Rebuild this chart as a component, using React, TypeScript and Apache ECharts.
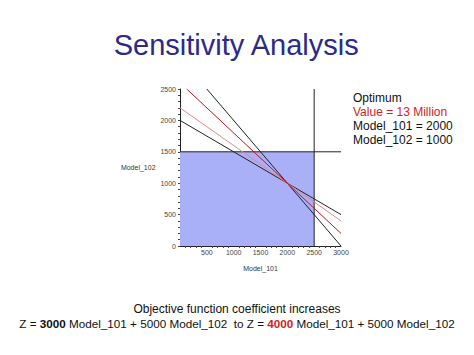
import React, { useEffect, useRef } from "react";
import * as echarts from "echarts";

const xTicks = [0, 500, 1000, 1500, 2000, 2500, 3000];
const yTicks = [0, 500, 1000, 1500, 2000, 2500];
const feasibleTop = [[0, 1500], [2500, 1500]];
const limit102 = [[0, 1500], [3000, 1500]];
const limit101 = [[2500, 0], [2500, 2500]];
const constraintA = [[0, 2000], [3000, 500]];
const constraintB = [[500, 2500], [3000, 0]];
const objectiveOld = [[0, 2200], [3000, 400]];
const objectiveNew = [[125, 2500], [3000, 200]];
const infoLines = ["Optimum", "Value = 13 Million", "Model_101 = 2000", "Model_102 = 1000"];

export default function App() {
  const ref = useRef<HTMLDivElement>(null);
  useEffect(() => {
    const chart = echarts.init(ref.current!, null, { renderer: "svg" });
    const font = "Liberation Sans, Arial, sans-serif";
    const lineSeries = (data: number[][], color: string, width = 1) => ({
      type: "line",
      data,
      symbol: "none",
      lineStyle: { color, width },
      z: 3,
    });
    chart.setOption({
      animation: false,
      textStyle: { fontFamily: font },
      grid: { left: 180, right: 133, top: 89, bottom: 109 },
      xAxis: {
        type: "value",
        min: xTicks[0],
        max: xTicks[xTicks.length - 1],
        interval: 500,
        name: "Model_101",
        nameLocation: "middle",
        nameGap: 19,
        nameTextStyle: { fontSize: 7, color: "#333" },
        axisLine: { lineStyle: { color: "#222", width: 1 } },
        axisTick: { show: false },
        minorTick: { show: true, splitNumber: 5, length: 2, lineStyle: { color: "#444" } },
        axisLabel: {
          fontSize: 7,
          color: "#444",
          margin: 3,
          formatter: (v: number) => (v === 0 ? "" : String(v)),
        },
        splitLine: { show: false },
      },
      yAxis: {
        type: "value",
        min: yTicks[0],
        max: yTicks[yTicks.length - 1],
        interval: 500,
        name: "Model_102",
        nameLocation: "middle",
        nameRotate: 0,
        nameGap: 24,
        nameTextStyle: { fontSize: 7, color: "#333" },
        axisLine: { show: true, lineStyle: { color: "#222", width: 1 } },
        axisTick: { show: true, length: 2, lineStyle: { color: "#444" } },
        minorTick: { show: true, splitNumber: 5, length: 2, lineStyle: { color: "#444" } },
        axisLabel: { fontSize: 7, color: "#444", margin: 4, formatter: (v: number) => String(v) },
        splitLine: { show: false },
      },
      series: [
        {
          type: "line",
          data: feasibleTop,
          symbol: "none",
          lineStyle: { width: 0 },
          areaStyle: { color: "#aab0f7", opacity: 1 },
          z: 1,
        },
        lineSeries(limit102, "#222"),
        lineSeries(limit101, "#222"),
        lineSeries(constraintA, "#222"),
        lineSeries(constraintB, "#222"),
        lineSeries(objectiveOld, "#e08a8a"),
        lineSeries(objectiveNew, "#c0141e"),
      ],
      graphic: [
        {
          type: "text",
          left: "center",
          top: 30,
          style: { text: "Sensitivity Analysis", fontSize: 29, fill: "#2b2a8a", fontFamily: font },
        },
        ...infoLines.map((t, i) => ({
          type: "text",
          x: 353,
          y: 92 + i * 14,
          style: {
            text: t,
            fontSize: 12,
            fill: i === 1 ? "#d01e24" : "#111",
            fontFamily: font,
          },
        })),
        {
          type: "text",
          x: 237,
          y: 303,
          style: {
            text: "Objective function coefficient increases",
            fontSize: 12,
            fill: "#111",
            fontFamily: font,
            align: "center",
          },
        },
        {
          type: "text",
          x: 237,
          y: 317,
          style: {
            text: "Z = {b|3000} Model_101 + 5000 Model_102  to Z = {r|4000} Model_101 + 5000 Model_102",
            fontSize: 11.7,
            fill: "#111",
            fontFamily: font,
            align: "center",
            rich: {
              b: { fontWeight: "bold", fontSize: 11.7, fill: "#111", fontFamily: font },
              r: { fontWeight: "bold", fontSize: 11.7, fill: "#d01e24", fontFamily: font },
            },
          },
        },
      ],
    });
    return () => chart.dispose();
  }, []);
  return (
    <div
      ref={ref}
      style={{ position: "absolute", left: 0, top: 0, width: 474, height: 355, background: "#fff" }}
    />
  );
}
